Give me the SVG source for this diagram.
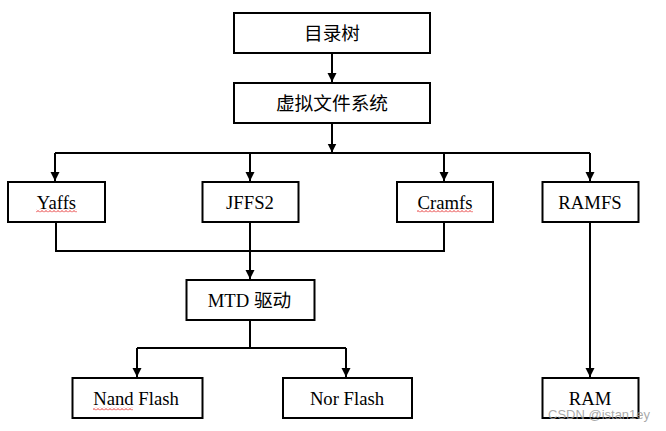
<svg xmlns="http://www.w3.org/2000/svg" width="666" height="431" viewBox="0 0 666 431">
<style>
.box{fill:#fff;stroke:#000;stroke-width:2}
.lbl{font-family:'Liberation Serif','Times New Roman','Noto Sans CJK SC',serif;font-size:18.7px;fill:#000;text-anchor:middle}
.ln{fill:none;stroke:#000;stroke-width:2}
.arr{marker-end:url(#ah)}
.wm{font-family:'Liberation Sans',Arial,sans-serif;font-size:13px;fill:#9a9a9a;fill-opacity:0.85}
</style>
<defs>
<marker id="ah" markerUnits="userSpaceOnUse" markerWidth="10" markerHeight="10" refX="9" refY="4.5" orient="auto">
<path d="M0,0 L9,4.5 L0,9 z" fill="#000"/>
</marker>
<pattern id="sq" patternUnits="userSpaceOnUse" width="4" height="3">
<polyline points="0,2.5 2,0.5 4,2.5" fill="none" stroke="#e00000" stroke-width="0.8"/>
</pattern>
</defs>
<rect width="666" height="431" fill="#fff"/>
<g id="connectors">
<path class="ln arr" d="M332,54 V82"/>
<path class="ln arr" d="M332,124 V152.5"/>
<path class="ln" d="M55,153 H590"/>
<path class="ln arr" d="M55,153 V181"/>
<path class="ln arr" d="M250,153 V181"/>
<path class="ln arr" d="M444,153 V181"/>
<path class="ln arr" d="M590,153 V181"/>
<path class="ln" d="M56,222 V251 H444 V222"/>
<path class="ln arr" d="M250,222 V279"/>
<path class="ln arr" d="M590,222 V377"/>
<path class="ln" d="M250,320 V348 M137,348 H346"/>
<path class="ln arr" d="M137,348 V377"/>
<path class="ln arr" d="M346,348 V377"/>
</g>
<g id="node-tree"><rect class="box" x="234" y="13" width="196" height="40"/><text class="lbl" x="332" y="39.5">目录树</text></g>
<g id="node-vfs"><rect class="box" x="234" y="83" width="196" height="40"/><text class="lbl" x="332" y="109.5">虚拟文件系统</text></g>
<g id="node-yaffs"><rect class="box" x="8" y="182" width="97" height="40"/><text class="lbl" x="56.5" y="208.5">Yaffs</text><rect x="36" y="209.5" width="41" height="3" fill="url(#sq)"/></g>
<g id="node-jffs2"><rect class="box" x="202.5" y="182" width="96" height="40"/><text class="lbl" x="250" y="208.5">JFFS2</text></g>
<g id="node-cramfs"><rect class="box" x="397" y="182" width="96" height="40"/><text class="lbl" x="445" y="208.5">Cramfs</text><rect x="417" y="209.5" width="56" height="3" fill="url(#sq)"/></g>
<g id="node-ramfs"><rect class="box" x="542.5" y="182" width="96" height="40"/><text class="lbl" x="590" y="208.5">RAMFS</text></g>
<g id="node-mtd"><rect class="box" x="186.5" y="280" width="128" height="40"/><text class="lbl" x="249.5" y="306.5">MTD 驱动</text></g>
<g id="node-nand"><rect class="box" x="72.5" y="378" width="130" height="40"/><text class="lbl" x="136" y="404.5">Nand Flash</text><rect x="93" y="407.5" width="40" height="3" fill="url(#sq)"/></g>
<g id="node-nor"><rect class="box" x="283" y="378" width="129" height="40"/><text class="lbl" x="347" y="404.5">Nor Flash</text></g>
<g id="node-ram"><rect class="box" x="542.5" y="378" width="96" height="40"/><text class="lbl" x="590" y="404.5">RAM</text></g>
<text class="wm" x="548" y="419">CSDN @istan1ey</text>
</svg>
